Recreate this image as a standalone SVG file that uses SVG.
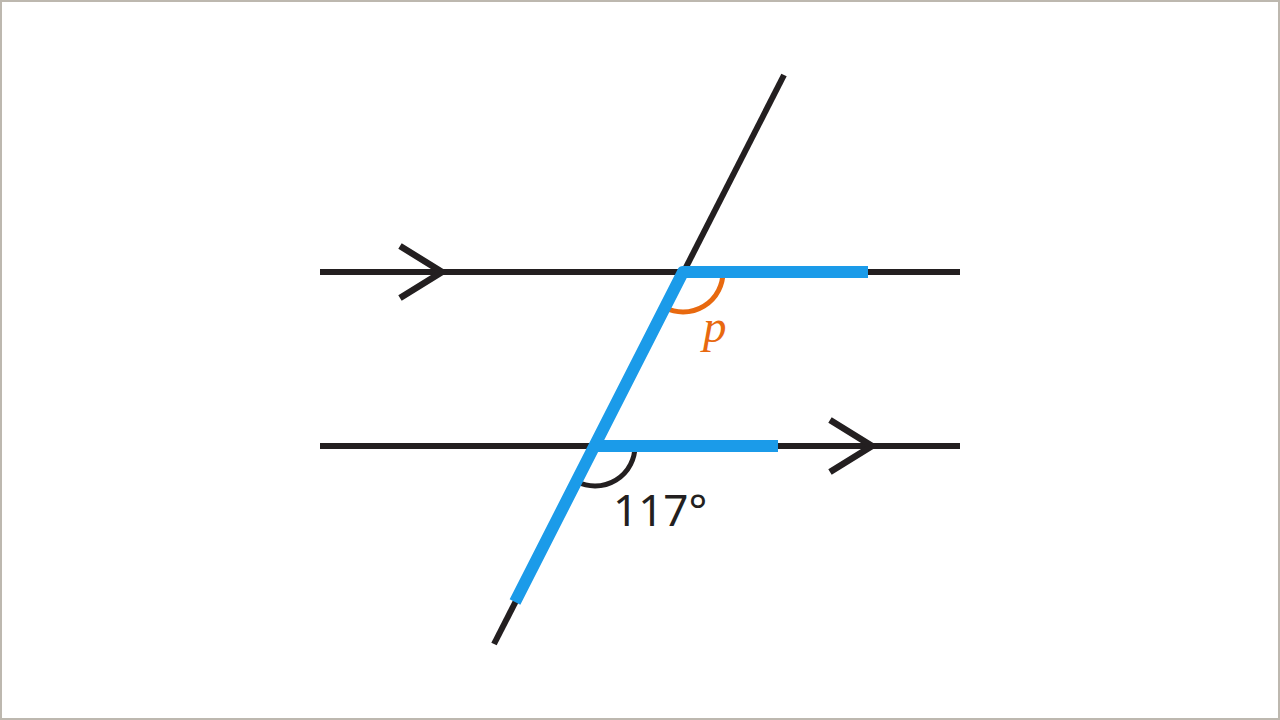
<svg xmlns="http://www.w3.org/2000/svg" width="1280" height="720" viewBox="0 0 1280 720">
<style>
.blk{stroke:#231f20;stroke-width:6;fill:none;stroke-linecap:butt}
.blu{stroke:#1b9be9;stroke-width:12;fill:none;stroke-linecap:butt;stroke-linejoin:round}
.arcO{stroke:#e8690f;stroke-width:5;fill:none}
.arcK{stroke:#231f20;stroke-width:5;fill:none}
.chev{stroke:#231f20;stroke-width:6.5;fill:none;stroke-linejoin:miter}
</style>
<rect x="1" y="1" width="1278" height="718" fill="#ffffff" stroke="#bdb8af" stroke-width="2"/>
<g id="connectors">
<line id="line-top" class="blk" x1="320" y1="272" x2="960" y2="272"/>
<line id="line-bottom" class="blk" x1="320" y1="446" x2="960" y2="446"/>
<line id="transversal" class="blk" x1="784" y1="75" x2="494" y2="644"/>
<polyline id="chevron-top" class="chev" points="400,246 442,272 400,298"/>
<polyline id="chevron-bottom" class="chev" points="830,420 872,446 830,472"/>
</g>
<g id="angle-p">
<path class="arcO" d="M723,272 A40,40 0 0 1 664.84,307.64"/>
</g>
<g id="angle-117">
<path class="arcK" d="M635,446 A40,40 0 0 1 576.84,481.64"/>
</g>
<g id="highlight">
<polyline class="blu" points="868,272 683,272 515,602"/>
<line class="blu" x1="595" y1="446" x2="778" y2="446"/>
</g>
<g id="labels">
<text x="703" y="342" font-family="'Liberation Serif', serif" font-style="italic" font-size="47" fill="#e8690f">p</text>
<text x="613" y="526" font-family="'Noto Sans', sans-serif" font-size="44" fill="#231f20">117°</text>
</g>
</svg>
